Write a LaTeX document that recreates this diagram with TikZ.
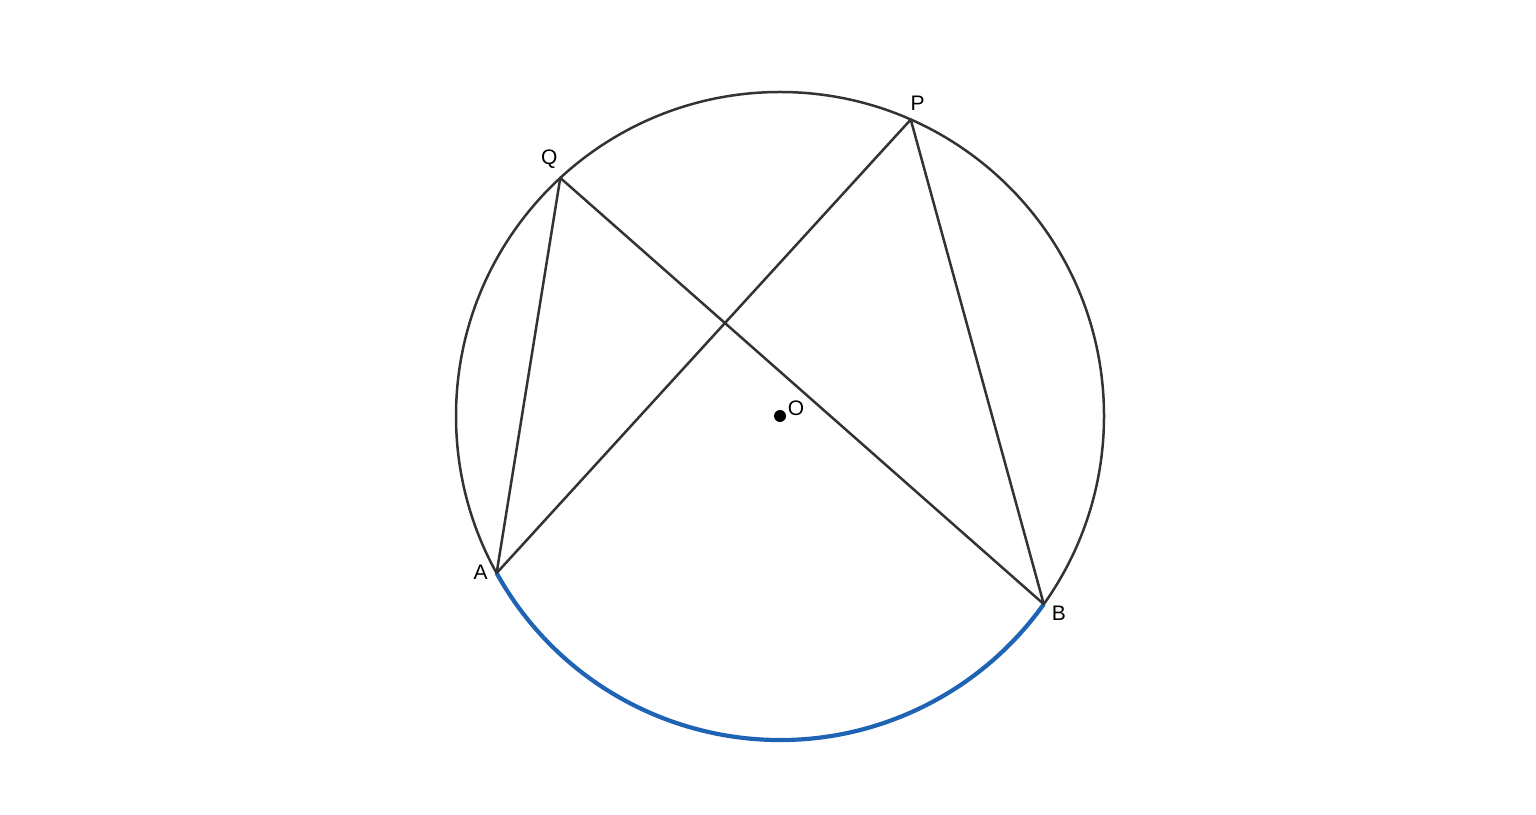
\documentclass[tikz,border=0pt]{standalone}
\usepackage{fontspec}
\setmainfont{Liberation Sans}
\definecolor{linec}{HTML}{333333}
\definecolor{arcblue}{HTML}{1F63B5}
\begin{document}
\begin{tikzpicture}[x=1pt,y=1pt,
  chord/.style={draw=linec,line width=2.5pt,line join=round},
  lbl/.style={font=\fontsize{21}{21}\selectfont,inner sep=0pt}]
\useasboundingbox (0,0) rectangle (1536,814);
\begin{scope}[shift={(780,398)}]
  \coordinate (O) at (0,0);
  \coordinate (A) at (209:324);
  \coordinate (B) at (324.5:324);
  \coordinate (P) at (66.2:324);
  \coordinate (Q) at (132.7:324);
  \draw[linec,line width=2.5pt] (O) circle[radius=324];
  \draw[arcblue,line width=4.2pt] (A) arc[start angle=209,end angle=324.5,radius=324];
  \draw[chord] (A) -- (Q) -- (B) -- (P) -- cycle;
  \fill[black] (O) circle[radius=6];
  \node[lbl] (lO) at (16,8) {O};
  \node[lbl] (lA) at ([shift={(-16,1)}]A) {A};
  \node[lbl] (lB) at ([shift={(15,-9)}]B) {B};
  \node[lbl] (lP) at ([shift={(7,16)}]P) {P};
  \node[lbl] (lQ) at ([shift={(-11,19)}]Q) {Q};
\end{scope}
\end{tikzpicture}
\end{document}
